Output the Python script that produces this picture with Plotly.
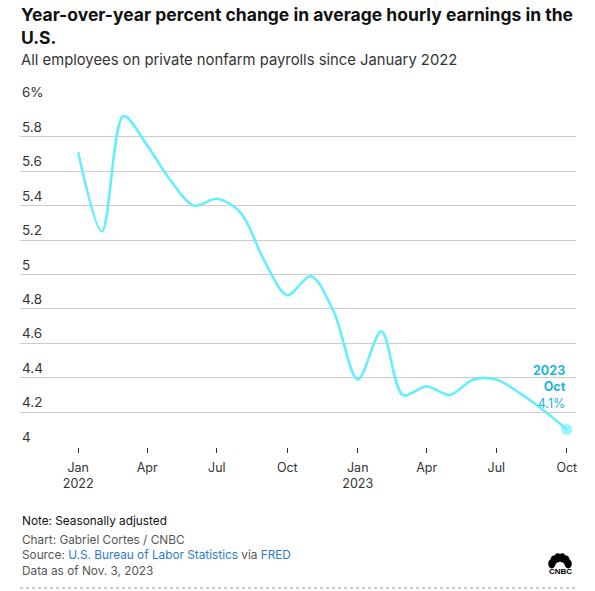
import math
import plotly.graph_objects as go

months = ["2022-01-01", "2022-02-01", "2022-03-01", "2022-04-01", "2022-05-01", "2022-06-01",
          "2022-07-01", "2022-08-01", "2022-09-01", "2022-10-01", "2022-11-01", "2022-12-01",
          "2023-01-01", "2023-02-01", "2023-03-01", "2023-04-01", "2023-05-01", "2023-06-01",
          "2023-07-01", "2023-08-01", "2023-09-01", "2023-10-01"]
yoy_pct = [5.71, 5.25, 5.92, 5.75, 5.55, 5.40, 5.44, 5.36, 5.08, 4.88, 4.99, 4.78,
           4.39, 4.67, 4.30, 4.35, 4.30, 4.39, 4.39, 4.31, 4.21, 4.10]

y_ticks = [4, 4.2, 4.4, 4.6, 4.8, 5, 5.2, 5.4, 5.6, 5.8, 6]
y_tick_labels = ["4", "4.2", "4.4", "4.6", "4.8", "5", "5.2", "5.4", "5.6", "5.8", "6%"]
x_ticks = ["2022-01-01", "2022-04-01", "2022-07-01", "2022-10-01",
           "2023-01-01", "2023-04-01", "2023-07-01", "2023-10-01"]
x_tick_labels = ["Jan<br>2022", "Apr", "Jul", "Oct", "Jan<br>2023", "Apr", "Jul", "Oct"]

W, H = 595, 591
L, R, T, B = 20, 576, 102, 447
FONT = "Inter"
LINE = "#66eeff"
LABEL = "#22b4d9"


def px(x):
    return (x - L) / (R - L)


def py(y):
    return (B - y) / (B - T)


fig = go.Figure()
fig.add_trace(go.Scatter(
    x=months, y=yoy_pct, mode="lines",
    line=dict(color=LINE, width=2.6, shape="spline", smoothing=0.9),
    hoverinfo="skip", showlegend=False))
fig.add_trace(go.Scatter(
    x=[months[-1]], y=[yoy_pct[-1]], mode="markers",
    marker=dict(color="rgba(102,238,255,0.65)", size=11, line=dict(width=0)),
    hoverinfo="skip", showlegend=False))

fig.update_layout(
    width=W, height=H,
    margin=dict(l=L, r=W - R, t=T, b=H - B, pad=0),
    paper_bgcolor="white", plot_bgcolor="white",
    font=dict(family=FONT, color="#333333", size=13),
    xaxis=dict(
        type="date", range=["2021-10-17", "2023-10-13"],
        tickvals=x_ticks, ticktext=x_tick_labels,
        showgrid=False, zeroline=False, showline=False,
        ticks="outside", ticklen=5, tickwidth=1, tickcolor="#333333",
        ticklabelstandoff=4,
        tickfont=dict(size=12.5, color="#333333", family=FONT),
        fixedrange=True),
    yaxis=dict(
        range=[3.998, 6.002], tickvals=y_ticks, showticklabels=False,
        showgrid=True, gridcolor="#cccccc", gridwidth=1,
        zeroline=False, showline=False, ticks="",
        fixedrange=True),
)

ann = []
for v, t in zip(y_ticks, y_tick_labels):
    ann.append(dict(text=t, x=0, y=v, xref="paper", yref="y", xanchor="left", yanchor="bottom",
                    yshift=0, showarrow=False, font=dict(size=13.5, color="#333333", family=FONT)))
ann.append(dict(text="<b>Year-over-year percent change in average hourly earnings in the<br>U.S.</b>",
                x=px(19), y=py(2), xref="paper", yref="paper", xanchor="left", yanchor="top",
                align="left", showarrow=False,
                font=dict(size=17.5, color="#111111", family=FONT)))
ann.append(dict(text="All employees on private nonfarm payrolls since January 2022",
                x=px(19), y=py(49), xref="paper", yref="paper", xanchor="left", yanchor="top",
                align="left", showarrow=False,
                font=dict(size=14.8, color="#333333", family=FONT)))
# end label (white box under the line but above the grid)
fig.add_shape(type="rect", xref="paper", yref="paper", layer="between",
              x0=px(529), x1=px(569), y0=py(416), y1=py(362),
              fillcolor="white", line=dict(width=0))
ann.append(dict(text="<b>2023</b><br><b>Oct</b><br>4.1%",
                x=px(567), y=py(362), xref="paper", yref="paper", xanchor="right", yanchor="top",
                align="right", showarrow=False, borderpad=0,
                font=dict(size=12.5, color=LABEL, family=FONT)))
# footer
ann.append(dict(text="Note: Seasonally adjusted",
                x=px(20), y=py(512), xref="paper", yref="paper", xanchor="left", yanchor="top",
                align="left", showarrow=False, font=dict(size=11.8, color="#111111", family=FONT)))
foot = ("Chart: Gabriel Cortes / CNBC<br>"
        "Source: <span style='color:#2b7bc8'>U.S. Bureau of Labor Statistics</span> via "
        "<span style='color:#2b7bc8'>FRED</span><br>"
        "Data as of Nov. 3, 2023")
ann.append(dict(text=foot,
                x=px(20), y=py(531), xref="paper", yref="paper", xanchor="left", yanchor="top",
                align="left", showarrow=False, font=dict(size=11.8, color="#555555", family=FONT)))
ann.append(dict(text="<b>CNBC</b>",
                x=px(560), y=py(578), xref="paper", yref="paper", xanchor="center", yanchor="bottom",
                showarrow=False, font=dict(size=8, color="#000000", family="Liberation Sans")))
fig.update_layout(annotations=ann)

# simple peacock mark
cx, cy = 560, 566
for ang in [165, 135, 105, 75, 45, 15]:
    a = math.radians(ang)
    fx, fy = cx + 8.5 * math.cos(a), cy - 8.5 * math.sin(a)
    fig.add_shape(type="circle", xref="paper", yref="paper",
                  x0=px(fx - 3.6), x1=px(fx + 3.6), y0=py(fy + 4.6), y1=py(fy - 4.6),
                  fillcolor="black", line=dict(width=0))

# dashed footer rule
fig.add_shape(type="line", xref="paper", yref="paper", x0=px(20), x1=px(575), y0=py(588), y1=py(588),
              line=dict(color="#999999", width=1, dash="dot"))

fig.write_html("out.html")
